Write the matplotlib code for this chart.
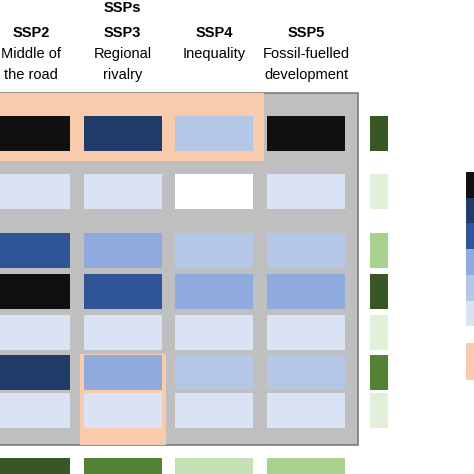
import matplotlib.pyplot as plt
from matplotlib.patches import Rectangle

plt.rcParams['font.family'] = ['Liberation Sans', 'DejaVu Sans']

# Data
ssp_codes = ["SSP2", "SSP3", "SSP4", "SSP5"]
ssp_names = [["Middle of", "the road"], ["Regional", "rivalry"], ["Inequality"], ["Fossil-fuelled", "development"]]

# blue levels: 0 white .. 6 black
blue_levels = [
    [6, 5, 2, 6],
    [1, 1, 0, 1],
    [4, 3, 2, 2],
    [6, 4, 3, 3],
    [1, 1, 1, 1],
    [5, 3, 2, 2],
    [1, 1, 1, 1],
]
# green levels: 0 lightest .. 4 darkest
green_right = [4, 0, 2, 4, 0, 3, 0]
green_bottom = [4, 3, 1, 2]
legend_levels = [6, 5, 4, 3, 2, 1]

blues = ["#ffffff", "#dae3f3", "#b4c7e7", "#8faadc", "#2f5597", "#203a6a", "#101010"]
greens = ["#e2f0d9", "#c5e0b4", "#a9d18e", "#538135", "#385723"]
orange = "#f8cbad"
grey = "#bfbfbf"

# Layout (pixel units)
col_x0, col_pitch, cell_w = 31, 91.7, 78
cell_h = 35
row_gaps = [23, 24, 6, 6, 5, 3]
first_top = 116
row_top = [first_top]
for g in row_gaps:
    row_top.append(row_top[-1] + cell_h + g)
col_c = [col_x0 + col_pitch * i for i in range(len(ssp_codes))]

fig = plt.figure(figsize=(4.74, 4.74), dpi=100)
ax = fig.add_axes([0, 0, 1, 1])
ax.set_xlim(0, 474)
ax.set_ylim(474, 0)
ax.axis('off')

# panel
p_left = col_c[0] - cell_w / 2 - 13
p_right = col_c[-1] + cell_w / 2 + 13
p_top = row_top[0] - 23
p_bot = row_top[-1] + cell_h + 17
ax.add_patch(Rectangle((p_left, p_top), p_right - p_left, p_bot - p_top,
                       facecolor=grey, edgecolor="#7a7a7a", lw=1.2, zorder=0))
# orange highlights
ax.add_patch(Rectangle((p_left, p_top), col_c[2] + cell_w / 2 + 11 - p_left,
                       row_top[0] + cell_h + 10 - p_top, facecolor=orange, lw=0, zorder=1))
ax.add_patch(Rectangle((col_c[1] - cell_w / 2 - 4, row_top[5] - 1), cell_w + 8,
                       p_bot - row_top[5] + 0.5, facecolor=orange, lw=0, zorder=1))

# cells
for r, row in enumerate(blue_levels):
    ax.bar(col_c, cell_h, width=cell_w, bottom=row_top[r],
           color=[blues[v] for v in row], zorder=2)

# right green column
gx = p_right + 21
ax.bar([gx] * len(green_right), cell_h, width=18, bottom=row_top,
       color=[greens[v] for v in green_right], zorder=2)

# bottom green row
ax.bar(col_c, cell_h, width=cell_w, bottom=p_bot + 13,
       color=[greens[v] for v in green_bottom], zorder=2)

# legend
seg_h = 25.7
leg_top = 172
ax.bar([475] * len(legend_levels), seg_h, width=18,
       bottom=[leg_top + seg_h * i for i in range(len(legend_levels))],
       color=[blues[v] for v in legend_levels], zorder=2)
ax.bar([475], 37, width=18, bottom=leg_top + seg_h * 6 + 17, color=orange, zorder=2)

# text
ax.text(col_c[1], 8, "SSPs", ha='center', va='center', fontsize=10.5, fontweight='bold')
for c, code, name in zip(col_c, ssp_codes, ssp_names):
    ax.text(c, 33, code, ha='center', va='center', fontsize=10.5, fontweight='bold')
    for k, line in enumerate(name):
        ax.text(c, 54 + 21 * k, line, ha='center', va='center', fontsize=10.5)

fig.savefig("out.png", dpi=100)
